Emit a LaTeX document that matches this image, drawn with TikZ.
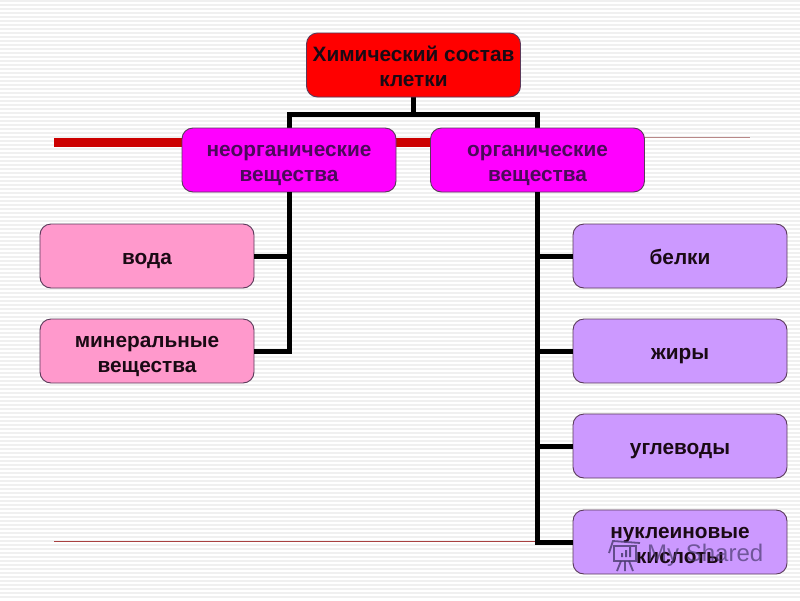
\documentclass[tikz,border=0pt]{standalone}
\usepackage{fontspec}
\setmainfont{Liberation Sans}
\definecolor{stripe}{HTML}{F0F0F0}
\definecolor{boxedge}{HTML}{5A3A5A}
\definecolor{redbox}{HTML}{FF0000}
\definecolor{magbox}{HTML}{FF00FF}
\definecolor{pinkbox}{HTML}{FF99CC}
\definecolor{purpbox}{HTML}{CC99FF}
\definecolor{deco}{HTML}{CC0000}
\definecolor{darkink}{HTML}{1A0A14}
\definecolor{maginkc}{HTML}{4B0A5A}
\definecolor{wmark}{HTML}{4A3A70}
\definecolor{rulebottom}{HTML}{A84040}
\definecolor{ruletop}{HTML}{B88888}
\tikzset{
  x=1pt,y=-1pt,
  card/.style={draw=boxedge,line width=0.9pt,rounded corners=11pt,minimum width=214pt,minimum height=64pt,
    align=center,inner sep=0pt,font=\fontsize{20.8}{25}\selectfont\bfseries,text=darkink},
  oneline/.style={text height=22pt,text depth=6pt},
  twoline/.style={text height=48pt,text depth=6pt},
  redcard/.style={card,fill=redbox},
  magcard/.style={card,fill=magbox,text=maginkc},
  pinkcard/.style={card,fill=pinkbox},
  purpcard/.style={card,fill=purpbox},
  link/.style={draw=black,line width=5pt},
  thinrule/.style={draw=rulebottom,line width=0.8pt},
  palerule/.style={draw=ruletop,line width=1pt},
  thickrule/.style={draw=deco,line width=9pt},
  wmarkline/.style={draw=wmark,opacity=0.8,line width=1.8pt},
}
\begin{document}
\begin{tikzpicture}
\useasboundingbox (0,0) rectangle (800,600);
\fill[white] (0,0) rectangle (800,600);
\foreach \yy in {1,5,...,597} {\draw[stripe,line width=1.5pt] (0,\yy) -- (800,\yy);}
\coordinate (tl) at (54,142);
\coordinate (tr) at (432,142);
\coordinate (ul) at (640,137.5);
\coordinate (ur) at (750,137.5);
\coordinate (bl) at (54,541);
\coordinate (br) at (540,541);
\draw[thickrule] (tl) -- (tr);
\draw[palerule] (ul) -- (ur);
\draw[thinrule] (bl) -- (br);
\draw[link] (413.5,97) -- (413.5,114);
\draw[link] (289,130) -- (289,114) -- (537.5,114) -- (537.5,130);
\node[redcard,twoline] (root) at (413.5,65) {Химический состав\\клетки};
\node[magcard,twoline] (inorg) at (289,160) {неорганические\\вещества};
\node[magcard,twoline] (org) at (537.5,160) {органические\\вещества};
\node[pinkcard,oneline] (water) at (147,256) {вода};
\node[pinkcard,twoline] (mineral) at (147,351) {минеральные\\вещества};
\node[purpcard,oneline] (prot) at (680,256) {белки};
\node[purpcard,oneline] (fat) at (680,351) {жиры};
\node[purpcard,oneline] (carb) at (680,446) {углеводы};
\node[purpcard,twoline] (nucl) at (680,542) {нуклеиновые\\кислоты};
\draw[link] (inorg.south) |- (water.east);
\draw[link] (inorg.south) |- (mineral.east);
\draw[link] (org.south) |- (prot.west);
\draw[link] (org.south) |- (fat.west);
\draw[link] (org.south) |- (carb.west);
\draw[link] (org.south) |- (nucl.west);
% watermark
\draw[wmarkline] (609,553) -- (613,541) -- (640,543);
\draw[wmarkline] (614,546) rectangle (636,561);
\fill[wmark,opacity=0.85] (621,553) rectangle (623,557) (625,550) rectangle (627,557) (629,547) rectangle (631,557);
\draw[wmarkline] (621,561) -- (617,571) (625,561) -- (625,571) (629,561) -- (633,571);
\node[text=wmark,opacity=0.7,font=\fontsize{24}{24}\selectfont,anchor=west,inner sep=0pt] (mark) at (647,555) {My Shared};
\end{tikzpicture}
\end{document}
